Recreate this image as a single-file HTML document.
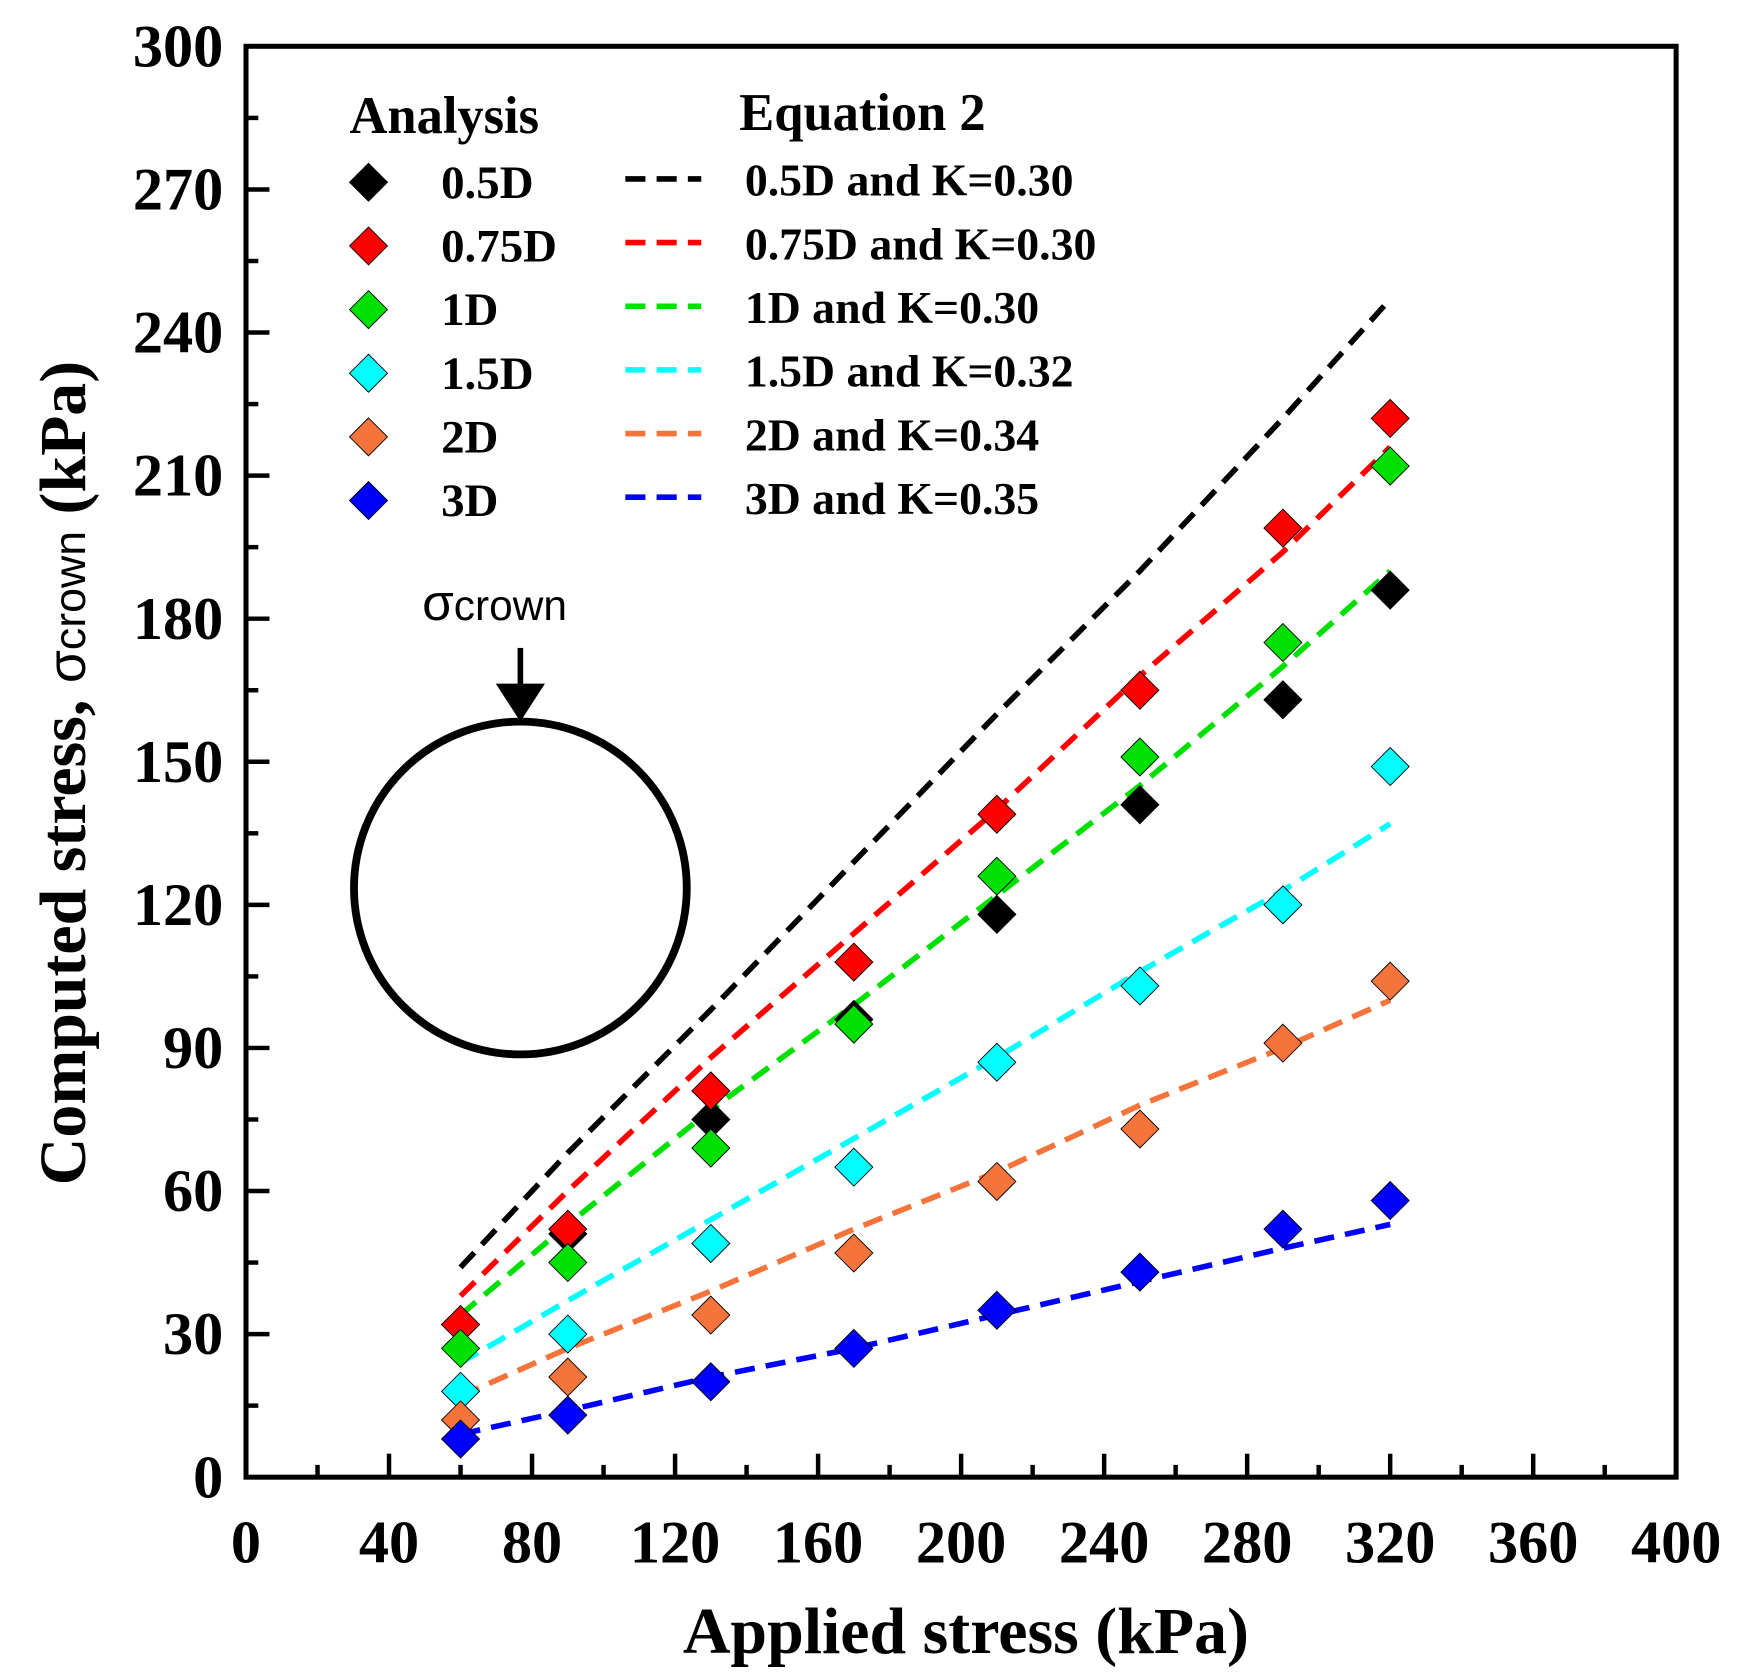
<!DOCTYPE html>
<html><head><meta charset="utf-8"><style>
html,body{margin:0;padding:0;background:#fff;}
svg{display:block;}
text{font-family:"Liberation Serif",serif;font-weight:bold;fill:#000;}
</style></head><body>
<svg id="s" width="1742" height="1680" viewBox="0 0 1560 1504" xmlns="http://www.w3.org/2000/svg">
<rect width="1560" height="1504" fill="#fff"/>
<g id="g"></g>
<circle cx="466" cy="795" r="149" fill="none" stroke="#000" stroke-width="7"/>
<line x1="466" y1="580" x2="466" y2="615" stroke="#000" stroke-width="5"/>
<polygon points="444,612 488,612 466,646" fill="#000"/>
<text x="378" y="555" style="font-family:'Liberation Sans',sans-serif;font-weight:normal;font-size:38px"><tspan font-size="46">σ</tspan>crown</text>
<text x="865" y="1480" text-anchor="middle" font-size="59">Applied stress (kPa)</text>
<text transform="translate(76,692) rotate(-90)" text-anchor="middle" font-size="59">Computed stress, <tspan style="font-weight:normal;font-family:'Liberation Sans',sans-serif;font-size:40px"><tspan font-size="48">σ</tspan>crown</tspan> (kPa)</text>
<text x="313" y="119" font-size="47">Analysis</text>
<text x="662" y="116" font-size="47">Equation 2</text>
</svg>
<script>
const NS="http://www.w3.org/2000/svg",g=document.getElementById('g');
function el(t,a,txt){const e=document.createElementNS(NS,t);for(const k in a)e.setAttribute(k,a[k]);if(txt!=null)e.textContent=txt;g.appendChild(e);return e;}
const X=v=>220.3+v*3.202, Y=v=>1322.6-v*4.271;
const xs=[60,90,130,170,210,250,290,320];
const cols=['#000','#ff0000','#00e000','#00ffff','#f4743b','#0000ff'];
const lines=[[44,68,98,129,160,190,222,247],[38,60,88,114,140,168,194,216],[34,53,77,99,122,145,170,190],[24,37,54,71,88,106,123,137],[17,27,39,52,64,78,90,100],[9,14,21,27,34,41,48,53]];
const pts=[[32,51,75,96,118,141,163,186],[32,52,81,108,139,165,199,222],[27,45,69,95,126,151,175,212],[18,30,49,65,87,103,120,149],[12,21,34,47,62,73,91,104],[8,13,20,27,35,43,52,58]];
const la=['0.5D','0.75D','1D','1.5D','2D','3D'];
const le=['0.5D and K=0.30','0.75D and K=0.30','1D and K=0.30','1.5D and K=0.32','2D and K=0.34','3D and K=0.35'];
function dia(x,y,c){el('polygon',{points:`${x},${y-17} ${x+17},${y} ${x},${y+17} ${x-17},${y}`,fill:c,stroke:'#000','stroke-width':0.8});}
lines.forEach((l,i)=>el('polyline',{points:l.map((v,j)=>X(xs[j])+','+Y(v)).join(' '),fill:'none',stroke:cols[i],'stroke-width':5,'stroke-dasharray':'18 10'}));
pts.forEach((p,i)=>p.forEach((v,j)=>dia(X(xs[j]),Y(v),cols[i])));
for(let i=0;i<6;i++){const y=163+57*i;dia(330,y,cols[i]);el('text',{x:395,y:y+14,'font-size':42},la[i]);
el('line',{x1:560,y1:y-3,x2:628,y2:y-3,stroke:cols[i],'stroke-width':5,'stroke-dasharray':'18 10'});
el('text',{x:667,y:y+12,'font-size':41},le[i]);}
el('rect',{x:220.3,y:41.2,width:1280.7,height:1281.4,fill:'none',stroke:'#000','stroke-width':4.5});
for(let v=0;v<=400;v+=20){const x=X(v),M=v%40==0;if(v>0&&v<400)el('line',{x1:x,y1:1322.6,x2:x,y2:1322.6-(M?21:11),stroke:'#000','stroke-width':4});
if(M)el('text',{x:x,y:1399,'text-anchor':'middle','font-size':54},v);}
for(let v=0;v<=300;v+=15){const y=Y(v),M=v%30==0;if(v>0&&v<300)el('line',{x1:220.3,y1:y,x2:220.3+(M?21:11),y2:y,stroke:'#000','stroke-width':4});
if(M)el('text',{x:200,y:y+18,'text-anchor':'end','font-size':54},v);}
</script>
</body></html>
